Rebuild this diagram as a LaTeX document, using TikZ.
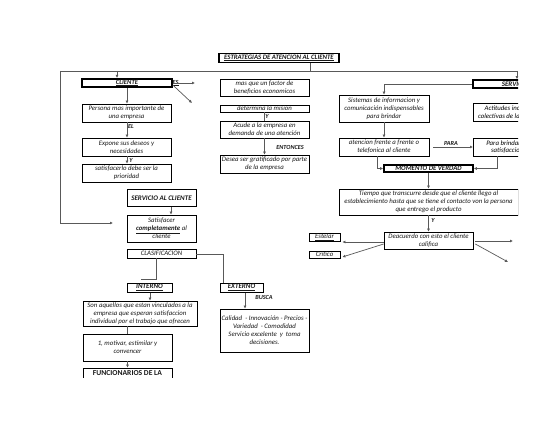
\documentclass[tikz,border=0pt]{standalone}
\usepackage{fontspec}
\setmainfont{Carlito}
\usetikzlibrary{arrows.meta}
\newcommand\mytxt{\fontsize{6.8}{8}\selectfont\itshape}
\newcommand\myhd{\fontsize{7}{8}\selectfont\bfseries\itshape}
\newcommand\mylab{\fontsize{6.2}{7}\selectfont\bfseries\itshape}
\begin{document}
\begin{tikzpicture}[x=1pt,y=-1pt,
  bx/.style={draw=black, line width=0.7pt, inner sep=0pt, align=center, font=\mytxt, text=black!90},
  hbox/.style={bx, font=\myhd},
  tbox/.style={hbox, line width=1.6pt},
  conn/.style={draw=black!65, line width=0.7pt},
  arr/.style={conn, -{Latex[length=3pt,width=3pt]}},
  lab/.style={font=\mylab, inner sep=0pt, text=black!90}]
\fill[white] (0,0) rectangle (560,433);
\useasboundingbox (0,0) rectangle (560,433);
\begin{scope}
\clip (0,0) rectangle (518,377);
% ---- nodes
\node[tbox, minimum width=120pt, minimum height=9pt, font=\fontsize{6.8}{8}\selectfont\bfseries\itshape] (title) at (279,58) {\underline{ESTRATEGIAS DE ATENCION AL CLIENTE}};
\node[tbox, minimum width=90pt, minimum height=8.5pt, font=\fontsize{6.6}{8}\selectfont\bfseries\itshape] (cliente) at (127,83) {\underline{CLIENTE}};
\node[bx, minimum width=89pt, minimum height=18pt] (persona) at (126.5,113) {Persona mas importante de\\una empresa};
\node[bx, minimum width=89pt, minimum height=18pt] (expone) at (126.5,147) {Expone sus deseos y\\necesidades};
\node[bx, minimum width=89pt, minimum height=18pt] (satis) at (126.5,173) {satisfacerlo debe ser la\\prioridad};
\node[bx, minimum width=89pt, minimum height=17pt] (masque) at (264.5,87.5) {mas que un factor de\\beneficios economicos};
\node[bx, minimum width=89pt, minimum height=7pt] (determina) at (264.5,108.5) {determina la mision};
\node[bx, minimum width=89pt, minimum height=17pt] (acude) at (264.5,129.5) {Acude a la empresa en\\demanda de una atención};
\node[bx, minimum width=89pt, minimum height=18pt] (desea) at (264.5,164) {Desea ser gratificado por parte\\de la empresa};
\node[bx, minimum width=90pt, minimum height=27pt] (sistemas) at (384,108.5) {Sistemas de informacion y\\comunicación indispensables\\para brindar};
\node[bx, minimum width=90pt, minimum height=18pt] (atencion) at (384,147) {atencion frente a frente o\\telefonica al cliente};
\node[tbox, minimum width=118pt, minimum height=8pt] (serv) at (532,84) {SERVICIO AL CLIENTE};
\node[bx, minimum width=130pt, minimum height=18pt, anchor=west] (actit) at (473,112) {};
\node[font=\mytxt, anchor=east, inner sep=0pt] (actit1) at (520,108) {Actitudes inc};
\node[font=\mytxt, anchor=east, inner sep=0pt] (actit2) at (520,116) {colectivas de la};
\node[bx, minimum width=130pt, minimum height=18pt, anchor=west] (parab) at (473,147) {};
\node[font=\mytxt, anchor=east, inner sep=0pt] (parab1) at (521,143) {Para brindar};
\node[font=\mytxt, anchor=east, inner sep=0pt] (parab2) at (520,151) {satisfaccio};
\node[tbox, minimum width=89pt, minimum height=7.5pt, font=\fontsize{6.8}{8}\selectfont\bfseries\itshape] (momento) at (428.5,168.5) {MOMENTO DE VERDAD};
\node[bx, minimum width=179pt, minimum height=26pt] (tiempo) at (428.5,202) {Tiempo que transcurre desde que el cliente llego al\\establecimiento hasta que se tiene el contacto von la persona\\que entrego el producto};
\node[bx, minimum width=89pt, minimum height=17pt] (deacuerdo) at (428.5,240.5) {Deacuerdo con esto el cliente\\califica};
\node[bx, minimum width=31pt, minimum height=8pt] (estelar) at (324.5,237) {\underline{Estelar}};
\node[bx, minimum width=31pt, minimum height=7pt] (critico) at (324.5,254.5) {Critico};
\node[hbox, line width=1pt, minimum width=69pt, minimum height=17pt] (servicio) at (161.5,198.5) {SERVICIO AL CLIENTE};
\node[bx, minimum width=69pt, minimum height=27pt] (satisfacer) at (161.5,228.5) {Satisfacer\\\underline{\bfseries completamente} al\\cliente};
\node[bx, minimum width=69pt, minimum height=9pt] (clasif) at (161.5,253.5) {CLASIFICACION};
\node[hbox, line width=1pt, minimum width=45pt, minimum height=9pt] (interno) at (149.5,287.5) {\underline{INTERNO}};
\node[hbox, line width=1pt, minimum width=43pt, minimum height=9pt] (externo) at (241.5,287.5) {\underline{EXTERNO}};
\node[bx, minimum width=89pt, minimum height=43pt] (calidad) at (264.5,330.5) {Calidad \ - Innovación - Precios -\\Variedad \ - Comodidad\\Servicio excelente \ y \ toma\\decisiones.};
\node[bx, minimum width=114pt, minimum height=25pt] (son) at (140,313.5) {Son aquellos que estan vinculados a la\\empresa que esperan satisfaccion\\individual por el trabajo que ofrecen};
\node[bx, minimum width=89pt, minimum height=27pt] (motivar) at (127.5,347.5) {1, motivar, estimilar y\\convencer};
\node[hbox, minimum width=89pt, minimum height=20pt] (funcion) at (127.5,378) {};
\node[lab] (funciont) at (127.5,373) {\fontsize{7.6}{8}\selectfont\upshape FUNCIONARIOS DE LA};
% ---- labels
\node[lab, anchor=west] (es) at (172.5,83) {\underline{ES}};
\node[lab] (el) at (131,126) {EL};
\node[lab] (y1) at (131,160) {Y};
\node[lab] (y2) at (267,116) {Y};
\node[lab] (entonces) at (290,147) {ENTONCES};
\node[lab] (para) at (451,143) {PARA};
\node[lab] (y3) at (433,220) {Y};
\node[lab] (busca) at (264,297) {BUSCA};
% ---- coordinates
\coordinate (tl) at (60,71);
\coordinate (tr) at (517,71);
\coordinate (tm) at (310,71);
\coordinate (tc) at (117,71);
\coordinate (lb) at (60,223);
\coordinate (lend) at (113,223);
\coordinate (es1) at (195,83);
\coordinate (es2) at (192,103);
\coordinate (atx) at (377,168.5);
\coordinate (pbx) at (497,168.5);
\coordinate (dr1) at (513,241);
\coordinate (dr2) at (508,262);
\coordinate (cl1) at (156,279);
\coordinate (cl2) at (141,279);
\coordinate (cx1) at (223,254);
\coordinate (rx) at (520,0);
% ---- connectors
\draw[conn] (title.south -| tm) -- (tm);
\draw[conn] (tl) -- (tr);
\draw[arr] (tr) -- (tr |- serv.north);
\draw[arr] (tc) -- (tc |- cliente.north);
\draw[arr] (tl) -- (lb) -- (lend);
\draw[arr] (cliente.south) -- (cliente.south |- persona.north);
\draw[arr] (cliente.east) -- (es1);
\draw[arr] ([yshift=-2pt]cliente.east) -- (es2);
\draw[arr] (cliente.south |- persona.south) -- (cliente.south |- expone.north);
\draw[arr] (cliente.south |- expone.south) -- (cliente.south |- satis.north);
\draw[conn] (determina.south) -- (acude.north);
\draw[arr] (acude.south) -- (desea.north);
\draw[arr] (serv.west) -- (serv.west -| sistemas.north) -- (sistemas.north);
\draw[arr] (sistemas.south) -- (atencion.north);
\draw[arr] ([xshift=4pt]atencion.east) -- (parab.west);
\draw[arr] (rx |- serv.south) -- (rx |- actit.north);
\draw[arr] (rx |- actit.south) -- (rx |- parab.north);
\draw[arr] (atx |- atencion.south) -- (atx) -- (momento.west);
\draw[arr] (pbx |- parab.south) -- (pbx) -- (momento.east);
\draw[arr] (momento.south) -- (tiempo.north);
\draw[arr] (tiempo.south) -- (deacuerdo.north);
\draw[arr] ([yshift=-1.5pt]deacuerdo.west) -- ([xshift=2pt,yshift=-5pt]estelar.east);
\draw[arr] ([yshift=-3.5pt]deacuerdo.west) -- ([xshift=2pt,yshift=-2.5pt]critico.east);
\draw[arr] ([xshift=2pt,yshift=-0.5pt]deacuerdo.east) -- (dr1);
\draw[arr] ([xshift=2pt,yshift=-3.5pt]deacuerdo.east) -- (dr2);
\draw[arr] ([xshift=9.5pt]servicio.south) -- ([xshift=9.5pt]satisfacer.north);
\draw[conn] (cl1 |- clasif.south) -- (cl1) -- (cl2);
\draw[conn] ([yshift=-0.5pt]clasif.east) -- (cx1) -- (cx1 |- externo.north);
\draw[arr] ([xshift=0.5pt]interno.south) -- ([xshift=0.5pt]interno.south |- son.north);
\draw[conn] (motivar.north |- son.south) -- (motivar.north);
\draw[arr] (motivar.south) -- (funcion.north);
\draw[arr] ([xshift=3.5pt]externo.south) -- ([xshift=3.5pt]externo.south |- calidad.north);
\end{scope}
\end{tikzpicture}
\end{document}
